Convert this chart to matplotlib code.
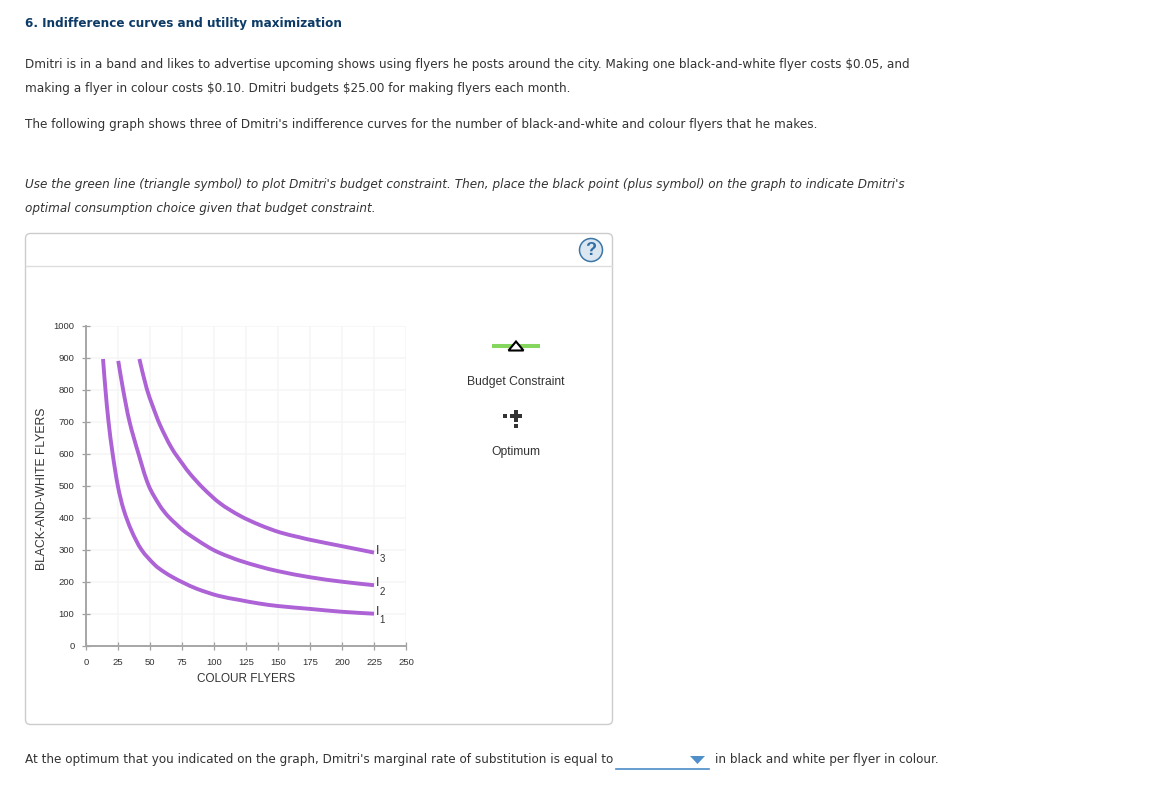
import numpy as np
import matplotlib
matplotlib.use('Agg')
import matplotlib.pyplot as plt
from matplotlib.patches import FancyBboxPatch, Circle, Polygon, Rectangle, PathPatch
from matplotlib.path import Path

# values
colour_ticks = [0, 25, 50, 75, 100, 125, 150, 175, 200, 225, 250]
bw_ticks = [0, 100, 200, 300, 400, 500, 600, 700, 800, 900, 1000]

i1_x = [13.3, 15.2, 17.6, 20.8, 25, 29.5, 35.7, 43.5, 53.9, 60.4, 68.2, 76, 86.5, 103.4, 119.8, 135, 150, 175, 200, 225]
i1_y = [896, 800, 700, 600, 497, 424, 358, 299, 252, 232, 213, 197, 178, 156, 143, 132, 124, 115, 106, 100]
i2_x = [25.2, 29, 34, 41, 49, 57.8, 64, 71, 76, 81.3, 86.5, 96.9, 104.4, 112.5, 120, 135, 150, 175, 200, 225]
i2_y = [890, 800, 700, 600, 500, 437, 405, 378, 360, 345, 331, 305, 290, 277, 266, 248, 233, 214, 200, 189]
i3_x = [41.7, 47.4, 52, 57.8, 67, 76, 81.3, 91.6, 104.7, 120.3, 135.9, 151.6, 166.6, 175, 200, 225]
i3_y = [896, 804, 750, 690, 617, 565, 537, 492, 445, 406, 377, 354, 339, 331, 311, 291]
curve_names = ['1', '2', '3']

DPI = 100
W, H = 1176, 788
TXT = '#333333'


def smooth_path(xs, ys):
    # bezier through the read points, so the curve has no corners
    pts = np.column_stack([xs, ys]).astype(float)
    scale = np.array([1.28, 0.32])
    tang = np.gradient(pts, axis=0)
    tang[1:-1] = (pts[2:] - pts[:-2]) / 2
    verts = [pts[0]]
    codes = [Path.MOVETO]
    for i in range(len(pts) - 1):
        step = pts[i + 1] - pts[i]
        t0 = tang[i] * np.linalg.norm(step * scale) / max(np.linalg.norm(tang[i] * scale), 1e-6)
        t1 = tang[i + 1] * np.linalg.norm(step * scale) / max(np.linalg.norm(tang[i + 1] * scale), 1e-6)
        verts += [pts[i] + t0 / 3, pts[i + 1] - t1 / 3, pts[i + 1]]
        codes += [Path.CURVE4] * 3
    return Path(verts, codes)


fig = plt.figure(figsize=(W / DPI, H / DPI), dpi=DPI, facecolor='white')

# page layer in pixel coordinates
page = fig.add_axes([0, 0, 1, 1])
page.set_xlim(0, W)
page.set_ylim(H, 0)
page.axis('off')

page.text(25, 23, '6. Indifference curves and utility maximization', fontsize=8.65,
          fontweight='bold', color='#0d3b66', va='center', family='DejaVu Sans')

lines = [
    (25, 64, "Dmitri is in a band and likes to advertise upcoming shows using flyers he posts around the city. Making one black-and-white flyer costs $0.05, and", 'normal'),
    (25, 88, "making a flyer in colour costs $0.10. Dmitri budgets $25.00 for making flyers each month.", 'normal'),
    (25, 124, "The following graph shows three of Dmitri's indifference curves for the number of black-and-white and colour flyers that he makes.", 'normal'),
    (25, 184, "Use the green line (triangle symbol) to plot Dmitri's budget constraint. Then, place the black point (plus symbol) on the graph to indicate Dmitri's", 'italic'),
    (25, 208, "optimal consumption choice given that budget constraint.", 'italic'),
    (25, 760, "At the optimum that you indicated on the graph, Dmitri's marginal rate of substitution is equal to", 'normal'),
    (715, 760, "in black and white per flyer in colour.", 'normal'),
]
for x, y, s, st in lines:
    size = 8.68 if st == 'italic' else 8.65
    page.text(x, y, s.replace('$', r'\$'), fontsize=size, color=TXT, va='center', style=st)

# panel around the graph
page.add_patch(FancyBboxPatch((25.5, 233.5), 587, 491, boxstyle='round,pad=0,rounding_size=5',
                              fc='white', ec='#cccccc', lw=1))
page.plot([26, 612], [265.5, 265.5], color='#dddddd', lw=1)
page.add_patch(Circle((591, 250), 11.5, fc='#dce6f1', ec='#3b76a8', lw=1.1))
page.text(591, 250.5, '?', fontsize=13, fontweight='bold', color='#2f6ea5', ha='center', va='center',
          family='Liberation Sans')

# legend palette
page.plot([492, 540], [345.5, 345.5], color='#85d65f', lw=2.9, solid_capstyle='butt')
page.add_patch(Polygon([[508.5, 350.5], [523.5, 350.5], [516, 341.5]], fc='white', ec='black', lw=1.5, zorder=4))
page.text(516, 381.5, 'Budget Constraint', fontsize=8.7, color=TXT, ha='center', va='center',
          family='Liberation Sans')
page.add_patch(Rectangle((510, 413.7), 12, 4.6, fc='#333333', ec='none'))
page.add_patch(Rectangle((513.7, 410), 4.6, 12, fc='#333333', ec='none'))
page.add_patch(Rectangle((503, 414), 4, 4, fc='#333333', ec='none'))
page.add_patch(Rectangle((514, 424), 4, 4, fc='#333333', ec='none'))
page.text(516, 451.5, 'Optimum', fontsize=8.7, color=TXT, ha='center', va='center',
          family='Liberation Sans')

# dropdown
page.plot([616, 709], [768.5, 768.5], color='#4a8cc7', lw=1.2)
page.add_patch(Polygon([[690, 756], [705, 756], [697.5, 764]], fc='#4f8fc9', ec='none'))

# the graph
ax = fig.add_axes([86 / W, (H - 645.7) / H, 320 / W, 320 / H])
ax.set_xlim(0, 250)
ax.set_ylim(0, 1000)
ax.patch.set_alpha(0)
ax.set_xticks(colour_ticks)
ax.set_yticks(bw_ticks)
ax.grid(True, color='#f5f5f5', lw=1.1)
ax.set_axisbelow(True)
for side in ['top', 'right']:
    ax.spines[side].set_visible(False)
for side in ['left', 'bottom']:
    ax.spines[side].set_color('#a6a6a6')
    ax.spines[side].set_linewidth(1.4)
ax.tick_params(direction='inout', length=5.8, width=0.9, color='#a0a0a0', labelsize=6.8, labelcolor=TXT)
ax.tick_params(axis='x', pad=6.1)
ax.tick_params(axis='y', pad=5.4)
for lab in ax.get_xticklabels() + ax.get_yticklabels():
    lab.set_family('Liberation Sans')

curves = [(i1_x, i1_y), (i2_x, i2_y), (i3_x, i3_y)]
for (xs, ys), name in zip(curves, curve_names):
    ax.add_patch(PathPatch(smooth_path(xs, ys), fc='none', ec='#ad62d6', lw=2.8, capstyle='butt'))
    # curve labels just right of the curve ends
    ax.annotate('I', (xs[-1], ys[-1]), xytext=(4, 2), textcoords='offset pixels', fontsize=9,
                color=TXT, ha='center', va='center', family='Liberation Sans')
    ax.annotate(name, (xs[-1], ys[-1]), xytext=(8.5, -6.5), textcoords='offset pixels', fontsize=7,
                color=TXT, ha='center', va='center', family='Liberation Sans')

ax.set_xlabel('COLOUR FLYERS', fontsize=8.5, color=TXT, family='Liberation Sans', va='center')
ax.set_ylabel('BLACK-AND-WHITE FLYERS', fontsize=8.7, color=TXT, family='Liberation Sans', va='center')
ax.xaxis.set_label_coords(0.5016, -0.103)
ax.yaxis.set_label_coords(-0.136, 0.49)

fig.savefig('out.png', dpi=DPI)
